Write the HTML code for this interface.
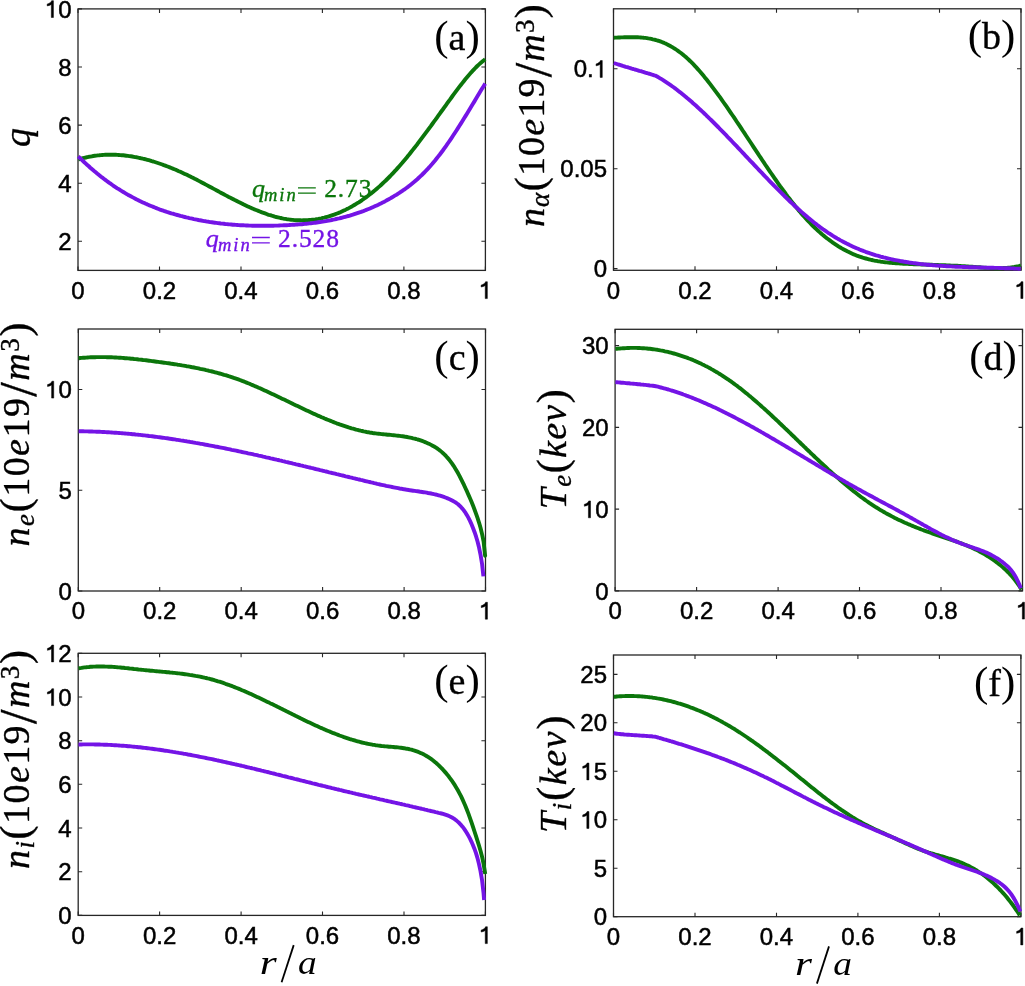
<!DOCTYPE html><html><head><meta charset="utf-8"><style>html,body{margin:0;padding:0;background:#fff;}svg{display:block;will-change:transform}.t{font-family:"Liberation Sans",sans-serif;font-size:24px;fill:#000;stroke:#000;stroke-width:0.5px}.s{font-family:"Liberation Serif",serif;fill:#000;stroke:#000;stroke-width:0.35px}</style></head><body>
<svg width="1025" height="986" viewBox="0 0 1025 986">
<rect width="1025" height="986" fill="#fff"/>
<rect x="78.0" y="8.9" width="407.4" height="261.5" fill="none" stroke="#262626" stroke-width="1.3"/>
<path d="M78.0,270.4v-4M78.0,8.9v4M159.5,270.4v-4M159.5,8.9v4M241.0,270.4v-4M241.0,8.9v4M322.4,270.4v-4M322.4,8.9v4M403.9,270.4v-4M403.9,8.9v4M485.4,270.4v-4M485.4,8.9v4M78.0,241.3h4M485.4,241.3h-4M78.0,183.2h4M485.4,183.2h-4M78.0,125.1h4M485.4,125.1h-4M78.0,67.0h4M485.4,67.0h-4M78.0,8.9h4M485.4,8.9h-4" stroke="#262626" stroke-width="1.1" fill="none"/>
<text class="t" x="71.33" y="298.6">0</text>
<text class="t" x="142.80" y="298.6">0.2</text>
<text class="t" x="224.28" y="298.6">0.4</text>
<text class="t" x="305.76" y="298.6">0.6</text>
<text class="t" x="387.24" y="298.6">0.8</text>
<path d="M359,0L359,703L285,703C265,640 200,585 101,562L101,482C170,497 230,515 271,545L271,0Z" transform="translate(478.73,298.6) scale(0.0240,-0.0240)" fill="#000" stroke="#000" stroke-width="20.8"/>
<text class="t" x="58.16" y="249.9">2</text>
<text class="t" x="58.16" y="191.8">4</text>
<text class="t" x="58.16" y="133.7">6</text>
<text class="t" x="58.16" y="75.6">8</text>
<path d="M359,0L359,703L285,703C265,640 200,585 101,562L101,482C170,497 230,515 271,545L271,0Z" transform="translate(44.81,17.5) scale(0.0240,-0.0240)" fill="#000" stroke="#000" stroke-width="20.8"/><text class="t" x="58.16" y="17.5">0</text>
<rect x="613.5" y="8.8" width="407.5" height="261.5" fill="none" stroke="#262626" stroke-width="1.3"/>
<path d="M613.5,270.3v-4M613.5,8.8v4M695.0,270.3v-4M695.0,8.8v4M776.5,270.3v-4M776.5,8.8v4M858.0,270.3v-4M858.0,8.8v4M939.5,270.3v-4M939.5,8.8v4M1021.0,270.3v-4M1021.0,8.8v4M613.5,268.6h4M1021.0,268.6h-4M613.5,168.7h4M1021.0,168.7h-4M613.5,68.8h4M1021.0,68.8h-4" stroke="#262626" stroke-width="1.1" fill="none"/>
<text class="t" x="606.83" y="298.5">0</text>
<text class="t" x="678.32" y="298.5">0.2</text>
<text class="t" x="759.82" y="298.5">0.4</text>
<text class="t" x="841.32" y="298.5">0.6</text>
<text class="t" x="922.82" y="298.5">0.8</text>
<path d="M359,0L359,703L285,703C265,640 200,585 101,562L101,482C170,497 230,515 271,545L271,0Z" transform="translate(1014.33,298.5) scale(0.0240,-0.0240)" fill="#000" stroke="#000" stroke-width="20.8"/>
<text class="t" x="593.66" y="277.2">0</text>
<text class="t" x="560.30" y="177.3">0.05</text>
<text class="t" x="573.64" y="77.4">0.</text><path d="M359,0L359,703L285,703C265,640 200,585 101,562L101,482C170,497 230,515 271,545L271,0Z" transform="translate(593.66,77.4) scale(0.0240,-0.0240)" fill="#000" stroke="#000" stroke-width="20.8"/>
<rect x="78.3" y="329.0" width="407.2" height="262.0" fill="none" stroke="#262626" stroke-width="1.3"/>
<path d="M78.3,591.0v-4M78.3,329.0v4M159.7,591.0v-4M159.7,329.0v4M241.2,591.0v-4M241.2,329.0v4M322.6,591.0v-4M322.6,329.0v4M404.1,591.0v-4M404.1,329.0v4M485.5,591.0v-4M485.5,329.0v4M78.3,591.0h4M485.5,591.0h-4M78.3,490.2h4M485.5,490.2h-4M78.3,389.5h4M485.5,389.5h-4" stroke="#262626" stroke-width="1.1" fill="none"/>
<text class="t" x="71.63" y="619.2">0</text>
<text class="t" x="143.06" y="619.2">0.2</text>
<text class="t" x="224.50" y="619.2">0.4</text>
<text class="t" x="305.94" y="619.2">0.6</text>
<text class="t" x="387.38" y="619.2">0.8</text>
<path d="M359,0L359,703L285,703C265,640 200,585 101,562L101,482C170,497 230,515 271,545L271,0Z" transform="translate(478.83,619.2) scale(0.0240,-0.0240)" fill="#000" stroke="#000" stroke-width="20.8"/>
<text class="t" x="58.46" y="599.6">0</text>
<text class="t" x="58.46" y="498.8">5</text>
<path d="M359,0L359,703L285,703C265,640 200,585 101,562L101,482C170,497 230,515 271,545L271,0Z" transform="translate(45.11,398.1) scale(0.0240,-0.0240)" fill="#000" stroke="#000" stroke-width="20.8"/><text class="t" x="58.46" y="398.1">0</text>
<rect x="615.1" y="329.3" width="407.4" height="261.6" fill="none" stroke="#262626" stroke-width="1.3"/>
<path d="M615.1,590.9v-4M615.1,329.3v4M696.6,590.9v-4M696.6,329.3v4M778.1,590.9v-4M778.1,329.3v4M859.5,590.9v-4M859.5,329.3v4M941.0,590.9v-4M941.0,329.3v4M1022.5,590.9v-4M1022.5,329.3v4M615.1,590.9h4M1022.5,590.9h-4M615.1,509.1h4M1022.5,509.1h-4M615.1,427.4h4M1022.5,427.4h-4M615.1,345.6h4M1022.5,345.6h-4" stroke="#262626" stroke-width="1.1" fill="none"/>
<text class="t" x="608.43" y="619.1">0</text>
<text class="t" x="679.90" y="619.1">0.2</text>
<text class="t" x="761.38" y="619.1">0.4</text>
<text class="t" x="842.86" y="619.1">0.6</text>
<text class="t" x="924.34" y="619.1">0.8</text>
<path d="M359,0L359,703L285,703C265,640 200,585 101,562L101,482C170,497 230,515 271,545L271,0Z" transform="translate(1015.83,619.1) scale(0.0240,-0.0240)" fill="#000" stroke="#000" stroke-width="20.8"/>
<text class="t" x="595.26" y="599.5">0</text>
<path d="M359,0L359,703L285,703C265,640 200,585 101,562L101,482C170,497 230,515 271,545L271,0Z" transform="translate(581.91,517.8) scale(0.0240,-0.0240)" fill="#000" stroke="#000" stroke-width="20.8"/><text class="t" x="595.26" y="517.8">0</text>
<text class="t" x="581.91" y="436.0">20</text>
<text class="t" x="581.91" y="354.2">30</text>
<rect x="78.2" y="653.3" width="407.2" height="262.1" fill="none" stroke="#262626" stroke-width="1.3"/>
<path d="M78.2,915.4v-4M78.2,653.3v4M159.6,915.4v-4M159.6,653.3v4M241.1,915.4v-4M241.1,653.3v4M322.5,915.4v-4M322.5,653.3v4M404.0,915.4v-4M404.0,653.3v4M485.4,915.4v-4M485.4,653.3v4M78.2,915.4h4M485.4,915.4h-4M78.2,871.7h4M485.4,871.7h-4M78.2,828.0h4M485.4,828.0h-4M78.2,784.3h4M485.4,784.3h-4M78.2,740.7h4M485.4,740.7h-4M78.2,697.0h4M485.4,697.0h-4M78.2,653.3h4M485.4,653.3h-4" stroke="#262626" stroke-width="1.1" fill="none"/>
<text class="t" x="71.53" y="943.6">0</text>
<text class="t" x="142.96" y="943.6">0.2</text>
<text class="t" x="224.40" y="943.6">0.4</text>
<text class="t" x="305.84" y="943.6">0.6</text>
<text class="t" x="387.28" y="943.6">0.8</text>
<path d="M359,0L359,703L285,703C265,640 200,585 101,562L101,482C170,497 230,515 271,545L271,0Z" transform="translate(478.73,943.6) scale(0.0240,-0.0240)" fill="#000" stroke="#000" stroke-width="20.8"/>
<text class="t" x="58.36" y="924.0">0</text>
<text class="t" x="58.36" y="880.3">2</text>
<text class="t" x="58.36" y="836.6">4</text>
<text class="t" x="58.36" y="792.9">6</text>
<text class="t" x="58.36" y="749.3">8</text>
<path d="M359,0L359,703L285,703C265,640 200,585 101,562L101,482C170,497 230,515 271,545L271,0Z" transform="translate(45.01,705.6) scale(0.0240,-0.0240)" fill="#000" stroke="#000" stroke-width="20.8"/><text class="t" x="58.36" y="705.6">0</text>
<path d="M359,0L359,703L285,703C265,640 200,585 101,562L101,482C170,497 230,515 271,545L271,0Z" transform="translate(45.01,661.9) scale(0.0240,-0.0240)" fill="#000" stroke="#000" stroke-width="20.8"/><text class="t" x="58.36" y="661.9">2</text>
<rect x="613.5" y="655.0" width="407.4" height="261.7" fill="none" stroke="#262626" stroke-width="1.3"/>
<path d="M613.5,916.7v-4M613.5,655.0v4M695.0,916.7v-4M695.0,655.0v4M776.5,916.7v-4M776.5,655.0v4M857.9,916.7v-4M857.9,655.0v4M939.4,916.7v-4M939.4,655.0v4M1020.9,916.7v-4M1020.9,655.0v4M613.5,916.7h4M1020.9,916.7h-4M613.5,868.2h4M1020.9,868.2h-4M613.5,819.8h4M1020.9,819.8h-4M613.5,771.3h4M1020.9,771.3h-4M613.5,722.8h4M1020.9,722.8h-4M613.5,674.4h4M1020.9,674.4h-4" stroke="#262626" stroke-width="1.1" fill="none"/>
<text class="t" x="606.83" y="944.9">0</text>
<text class="t" x="678.30" y="944.9">0.2</text>
<text class="t" x="759.78" y="944.9">0.4</text>
<text class="t" x="841.26" y="944.9">0.6</text>
<text class="t" x="922.74" y="944.9">0.8</text>
<path d="M359,0L359,703L285,703C265,640 200,585 101,562L101,482C170,497 230,515 271,545L271,0Z" transform="translate(1014.23,944.9) scale(0.0240,-0.0240)" fill="#000" stroke="#000" stroke-width="20.8"/>
<text class="t" x="593.66" y="925.3">0</text>
<text class="t" x="593.66" y="876.8">5</text>
<path d="M359,0L359,703L285,703C265,640 200,585 101,562L101,482C170,497 230,515 271,545L271,0Z" transform="translate(580.31,828.4) scale(0.0240,-0.0240)" fill="#000" stroke="#000" stroke-width="20.8"/><text class="t" x="593.66" y="828.4">0</text>
<path d="M359,0L359,703L285,703C265,640 200,585 101,562L101,482C170,497 230,515 271,545L271,0Z" transform="translate(580.31,779.9) scale(0.0240,-0.0240)" fill="#000" stroke="#000" stroke-width="20.8"/><text class="t" x="593.66" y="779.9">5</text>
<text class="t" x="580.31" y="731.4">20</text>
<text class="t" x="580.31" y="683.0">25</text>
<path d="M78.3,159.4 L79.8,159.0 L81.3,158.6 L82.8,158.2 L84.3,157.8 L85.8,157.5 L87.3,157.1 L88.8,156.8 L90.3,156.6 L91.8,156.3 L93.3,156.0 L94.8,155.8 L96.3,155.6 L97.8,155.4 L99.3,155.3 L100.8,155.1 L102.3,155.0 L103.8,154.9 L105.3,154.8 L106.8,154.8 L108.3,154.7 L109.8,154.7 L111.3,154.7 L112.8,154.7 L114.3,154.8 L115.8,154.8 L117.3,154.9 L118.8,155.0 L120.3,155.1 L121.8,155.2 L123.3,155.3 L124.8,155.5 L126.3,155.7 L127.8,155.9 L129.3,156.1 L130.8,156.3 L132.3,156.5 L133.8,156.8 L135.3,157.1 L136.8,157.3 L138.3,157.7 L139.8,158.0 L141.3,158.3 L142.8,158.7 L144.3,159.0 L145.8,159.4 L147.3,159.8 L148.8,160.2 L150.3,160.6 L151.8,161.1 L153.3,161.5 L154.8,162.0 L156.3,162.5 L157.8,163.0 L159.3,163.5 L160.8,164.0 L162.3,164.5 L163.8,165.1 L165.3,165.6 L166.8,166.2 L168.3,166.8 L169.8,167.4 L171.3,168.0 L172.8,168.6 L174.3,169.2 L175.8,169.8 L177.3,170.5 L178.8,171.2 L180.3,171.8 L181.8,172.5 L183.3,173.2 L184.8,173.9 L186.3,174.6 L187.8,175.3 L189.3,176.1 L190.8,176.8 L192.3,177.6 L193.8,178.3 L195.3,179.1 L196.8,179.8 L198.3,180.6 L199.8,181.4 L201.3,182.2 L202.8,183.0 L204.3,183.8 L205.8,184.6 L207.3,185.4 L208.8,186.2 L210.3,187.0 L211.8,187.8 L213.3,188.6 L214.8,189.4 L216.3,190.2 L217.8,191.0 L219.3,191.9 L220.8,192.7 L222.3,193.5 L223.8,194.3 L225.3,195.1 L226.8,195.9 L228.3,196.7 L229.8,197.4 L231.3,198.2 L232.8,199.0 L234.3,199.8 L235.8,200.5 L237.3,201.3 L238.8,202.1 L240.3,202.8 L241.8,203.5 L243.3,204.3 L244.8,205.0 L246.3,205.7 L247.8,206.4 L249.3,207.1 L250.8,207.7 L252.3,208.4 L253.8,209.1 L255.3,209.7 L256.8,210.3 L258.3,210.9 L259.8,211.5 L261.3,212.1 L262.8,212.7 L264.3,213.2 L265.8,213.7 L267.3,214.3 L268.8,214.8 L270.3,215.2 L271.8,215.7 L273.3,216.1 L274.8,216.6 L276.3,217.0 L277.8,217.3 L279.3,217.7 L280.8,218.0 L282.3,218.4 L283.8,218.7 L285.3,218.9 L286.8,219.2 L288.3,219.4 L289.8,219.6 L291.3,219.8 L292.8,219.9 L294.3,220.1 L295.8,220.2 L297.3,220.3 L298.8,220.3 L300.3,220.3 L301.8,220.4 L303.3,220.3 L304.8,220.3 L306.3,220.2 L307.8,220.2 L309.3,220.0 L310.8,219.9 L312.3,219.7 L313.8,219.6 L315.3,219.4 L316.8,219.1 L318.3,218.9 L319.8,218.6 L321.3,218.3 L322.8,217.9 L324.3,217.6 L325.8,217.2 L327.3,216.8 L328.8,216.4 L330.3,215.9 L331.8,215.4 L333.3,214.9 L334.8,214.4 L336.3,213.8 L337.8,213.2 L339.3,212.6 L340.8,212.0 L342.3,211.3 L343.8,210.6 L345.3,209.9 L346.8,209.1 L348.3,208.4 L349.8,207.6 L351.3,206.8 L352.8,205.9 L354.3,205.0 L355.8,204.1 L357.3,203.2 L358.8,202.3 L360.3,201.3 L361.8,200.3 L363.3,199.2 L364.8,198.2 L366.3,197.1 L367.8,196.0 L369.3,194.8 L370.8,193.7 L372.3,192.5 L373.8,191.2 L375.3,190.0 L376.8,188.7 L378.3,187.4 L379.8,186.1 L381.3,184.7 L382.8,183.3 L384.3,181.9 L385.8,180.5 L387.3,179.0 L388.8,177.5 L390.3,176.0 L391.8,174.4 L393.3,172.8 L394.8,171.2 L396.3,169.6 L397.8,167.9 L399.3,166.2 L400.8,164.5 L402.3,162.8 L403.8,161.0 L405.3,159.2 L406.8,157.4 L408.3,155.6 L409.8,153.7 L411.3,151.8 L412.8,149.9 L414.3,148.0 L415.8,146.1 L417.3,144.2 L418.8,142.2 L420.3,140.2 L421.8,138.2 L423.3,136.2 L424.8,134.2 L426.3,132.2 L427.8,130.2 L429.3,128.1 L430.8,126.1 L432.3,124.0 L433.8,121.9 L435.3,119.9 L436.8,117.8 L438.3,115.7 L439.8,113.6 L441.3,111.5 L442.8,109.5 L444.3,107.4 L445.8,105.3 L447.3,103.2 L448.8,101.1 L450.3,99.1 L451.8,97.0 L453.3,94.9 L454.8,92.9 L456.3,90.9 L457.8,88.9 L459.3,86.9 L460.8,85.0 L462.3,83.1 L463.8,81.2 L465.3,79.3 L466.8,77.5 L468.3,75.7 L469.8,74.0 L471.3,72.3 L472.8,70.7 L474.3,69.1 L475.8,67.5 L477.3,66.0 L478.8,64.6 L480.3,63.3 L481.8,62.0 L483.3,60.7 L484.8,59.6 L485.2,59.3" stroke="#0b760b" stroke-width="3.9" fill="none" stroke-linejoin="round"/>
<path d="M78.3,156.4 L79.8,157.9 L81.3,159.3 L82.8,160.8 L84.3,162.2 L85.8,163.6 L87.3,165.0 L88.8,166.3 L90.3,167.7 L91.8,169.0 L93.3,170.3 L94.8,171.6 L96.3,172.8 L97.8,174.1 L99.3,175.3 L100.8,176.5 L102.3,177.6 L103.8,178.8 L105.3,179.9 L106.8,181.0 L108.3,182.1 L109.8,183.2 L111.3,184.2 L112.8,185.3 L114.3,186.3 L115.8,187.3 L117.3,188.3 L118.8,189.2 L120.3,190.2 L121.8,191.1 L123.3,192.0 L124.8,192.9 L126.3,193.8 L127.8,194.7 L129.3,195.5 L130.8,196.3 L132.3,197.1 L133.8,197.9 L135.3,198.7 L136.8,199.5 L138.3,200.2 L139.8,201.0 L141.3,201.7 L142.8,202.4 L144.3,203.1 L145.8,203.8 L147.3,204.4 L148.8,205.1 L150.3,205.7 L151.8,206.3 L153.3,206.9 L154.8,207.5 L156.3,208.1 L157.8,208.7 L159.3,209.3 L160.8,209.8 L162.3,210.3 L163.8,210.9 L165.3,211.4 L166.8,211.9 L168.3,212.3 L169.8,212.8 L171.3,213.3 L172.8,213.7 L174.3,214.2 L175.8,214.6 L177.3,215.0 L178.8,215.4 L180.3,215.9 L181.8,216.2 L183.3,216.6 L184.8,217.0 L186.3,217.4 L187.8,217.7 L189.3,218.1 L190.8,218.4 L192.3,218.7 L193.8,219.1 L195.3,219.4 L196.8,219.7 L198.3,220.0 L199.8,220.3 L201.3,220.5 L202.8,220.8 L204.3,221.1 L205.8,221.3 L207.3,221.6 L208.8,221.8 L210.3,222.1 L211.8,222.3 L213.3,222.5 L214.8,222.7 L216.3,222.9 L217.8,223.1 L219.3,223.3 L220.8,223.5 L222.3,223.6 L223.8,223.8 L225.3,224.0 L226.8,224.1 L228.3,224.3 L229.8,224.4 L231.3,224.5 L232.8,224.7 L234.3,224.8 L235.8,224.9 L237.3,225.0 L238.8,225.1 L240.3,225.2 L241.8,225.3 L243.3,225.3 L244.8,225.4 L246.3,225.5 L247.8,225.5 L249.3,225.6 L250.8,225.6 L252.3,225.7 L253.8,225.7 L255.3,225.7 L256.8,225.8 L258.3,225.8 L259.8,225.8 L261.3,225.8 L262.8,225.8 L264.3,225.8 L265.8,225.8 L267.3,225.8 L268.8,225.8 L270.3,225.7 L271.8,225.7 L273.3,225.7 L274.8,225.6 L276.3,225.6 L277.8,225.6 L279.3,225.5 L280.8,225.4 L282.3,225.4 L283.8,225.3 L285.3,225.3 L286.8,225.2 L288.3,225.1 L289.8,225.0 L291.3,224.9 L292.8,224.8 L294.3,224.7 L295.8,224.6 L297.3,224.5 L298.8,224.4 L300.3,224.3 L301.8,224.2 L303.3,224.0 L304.8,223.9 L306.3,223.7 L307.8,223.6 L309.3,223.4 L310.8,223.3 L312.3,223.1 L313.8,222.9 L315.3,222.7 L316.8,222.5 L318.3,222.3 L319.8,222.1 L321.3,221.8 L322.8,221.6 L324.3,221.4 L325.8,221.1 L327.3,220.8 L328.8,220.6 L330.3,220.3 L331.8,220.0 L333.3,219.7 L334.8,219.4 L336.3,219.0 L337.8,218.7 L339.3,218.4 L340.8,218.0 L342.3,217.6 L343.8,217.2 L345.3,216.8 L346.8,216.4 L348.3,216.0 L349.8,215.6 L351.3,215.1 L352.8,214.7 L354.3,214.2 L355.8,213.7 L357.3,213.2 L358.8,212.7 L360.3,212.2 L361.8,211.6 L363.3,211.1 L364.8,210.5 L366.3,209.9 L367.8,209.3 L369.3,208.7 L370.8,208.1 L372.3,207.4 L373.8,206.8 L375.3,206.1 L376.8,205.4 L378.3,204.7 L379.8,203.9 L381.3,203.2 L382.8,202.4 L384.3,201.7 L385.8,200.9 L387.3,200.0 L388.8,199.2 L390.3,198.4 L391.8,197.5 L393.3,196.6 L394.8,195.7 L396.3,194.8 L397.8,193.8 L399.3,192.9 L400.8,191.9 L402.3,190.9 L403.8,189.8 L405.3,188.8 L406.8,187.7 L408.3,186.6 L409.8,185.4 L411.3,184.2 L412.8,183.0 L414.3,181.8 L415.8,180.5 L417.3,179.2 L418.8,177.8 L420.3,176.4 L421.8,175.0 L423.3,173.5 L424.8,172.0 L426.3,170.4 L427.8,168.8 L429.3,167.2 L430.8,165.5 L432.3,163.8 L433.8,162.0 L435.3,160.2 L436.8,158.3 L438.3,156.4 L439.8,154.5 L441.3,152.5 L442.8,150.5 L444.3,148.4 L445.8,146.3 L447.3,144.2 L448.8,142.0 L450.3,139.8 L451.8,137.6 L453.3,135.3 L454.8,133.0 L456.3,130.7 L457.8,128.4 L459.3,126.0 L460.8,123.6 L462.3,121.2 L463.8,118.8 L465.3,116.4 L466.8,113.9 L468.3,111.5 L469.8,109.0 L471.3,106.5 L472.8,104.0 L474.3,101.6 L475.8,99.1 L477.3,96.6 L478.8,94.1 L480.3,91.6 L481.8,89.1 L483.3,86.7 L484.8,84.2 L485.2,83.6" stroke="#7414e6" stroke-width="3.9" fill="none" stroke-linejoin="round"/>
<path d="M613.8,37.7 L615.3,37.6 L616.8,37.6 L618.3,37.5 L619.8,37.5 L621.3,37.4 L622.8,37.4 L624.3,37.3 L625.8,37.3 L627.3,37.2 L628.8,37.2 L630.3,37.2 L631.8,37.2 L633.3,37.2 L634.8,37.2 L636.3,37.3 L637.8,37.3 L639.3,37.4 L640.8,37.5 L642.3,37.6 L643.8,37.8 L645.3,37.9 L646.8,38.1 L648.3,38.4 L649.8,38.6 L651.3,38.9 L652.8,39.3 L654.3,39.6 L655.8,40.0 L657.3,40.5 L658.8,40.9 L660.3,41.4 L661.8,42.0 L663.3,42.6 L664.8,43.3 L666.3,43.9 L667.8,44.7 L669.3,45.5 L670.8,46.3 L672.3,47.2 L673.8,48.1 L675.3,49.0 L676.8,50.0 L678.3,51.1 L679.8,52.2 L681.3,53.3 L682.8,54.5 L684.3,55.8 L685.8,57.0 L687.3,58.4 L688.8,59.8 L690.3,61.2 L691.8,62.7 L693.3,64.2 L694.8,65.8 L696.3,67.4 L697.8,69.1 L699.3,70.8 L700.8,72.5 L702.3,74.3 L703.8,76.1 L705.3,78.0 L706.8,79.8 L708.3,81.7 L709.8,83.6 L711.3,85.6 L712.8,87.6 L714.3,89.6 L715.8,91.6 L717.3,93.6 L718.8,95.7 L720.3,97.7 L721.8,99.8 L723.3,102.0 L724.8,104.1 L726.3,106.2 L727.8,108.4 L729.3,110.6 L730.8,112.8 L732.3,115.0 L733.8,117.2 L735.3,119.4 L736.8,121.7 L738.3,123.9 L739.8,126.1 L741.3,128.4 L742.8,130.7 L744.3,132.9 L745.8,135.2 L747.3,137.5 L748.8,139.8 L750.3,142.0 L751.8,144.3 L753.3,146.6 L754.8,148.9 L756.3,151.1 L757.8,153.4 L759.3,155.7 L760.8,157.9 L762.3,160.2 L763.8,162.4 L765.3,164.7 L766.8,166.9 L768.3,169.1 L769.8,171.3 L771.3,173.5 L772.8,175.7 L774.3,177.9 L775.8,180.0 L777.3,182.1 L778.8,184.3 L780.3,186.4 L781.8,188.4 L783.3,190.5 L784.8,192.5 L786.3,194.6 L787.8,196.6 L789.3,198.5 L790.8,200.5 L792.3,202.4 L793.8,204.3 L795.3,206.2 L796.8,208.0 L798.3,209.9 L799.8,211.6 L801.3,213.4 L802.8,215.1 L804.3,216.8 L805.8,218.5 L807.3,220.1 L808.8,221.7 L810.3,223.2 L811.8,224.8 L813.3,226.3 L814.8,227.7 L816.3,229.1 L817.8,230.5 L819.3,231.9 L820.8,233.2 L822.3,234.5 L823.8,235.7 L825.3,237.0 L826.8,238.2 L828.3,239.3 L829.8,240.4 L831.3,241.5 L832.8,242.6 L834.3,243.6 L835.8,244.6 L837.3,245.6 L838.8,246.6 L840.3,247.5 L841.8,248.4 L843.3,249.2 L844.8,250.0 L846.3,250.8 L847.8,251.6 L849.3,252.3 L850.8,253.0 L852.3,253.7 L853.8,254.4 L855.3,255.0 L856.8,255.6 L858.3,256.1 L859.8,256.7 L861.3,257.2 L862.8,257.7 L864.3,258.1 L865.8,258.5 L867.3,258.9 L868.8,259.3 L870.3,259.7 L871.8,260.0 L873.3,260.4 L874.8,260.7 L876.3,260.9 L877.8,261.2 L879.3,261.4 L880.8,261.7 L882.3,261.9 L883.8,262.1 L885.3,262.3 L886.8,262.4 L888.3,262.6 L889.8,262.7 L891.3,262.9 L892.8,263.0 L894.3,263.1 L895.8,263.2 L897.3,263.3 L898.8,263.4 L900.3,263.5 L901.8,263.6 L903.3,263.7 L904.8,263.8 L906.3,263.9 L907.8,263.9 L909.3,264.0 L910.8,264.1 L912.3,264.1 L913.8,264.2 L915.3,264.3 L916.8,264.3 L918.3,264.4 L919.8,264.4 L921.3,264.5 L922.8,264.5 L924.3,264.6 L925.8,264.6 L927.3,264.7 L928.8,264.7 L930.3,264.8 L931.8,264.8 L933.3,264.9 L934.8,264.9 L936.3,265.0 L937.8,265.0 L939.3,265.1 L940.8,265.2 L942.3,265.2 L943.8,265.3 L945.3,265.3 L946.8,265.4 L948.3,265.4 L949.8,265.5 L951.3,265.6 L952.8,265.6 L954.3,265.7 L955.8,265.8 L957.3,265.8 L958.8,265.9 L960.3,266.0 L961.8,266.1 L963.3,266.2 L964.8,266.3 L966.3,266.4 L967.8,266.4 L969.3,266.6 L970.8,266.7 L972.3,266.8 L973.8,266.9 L975.3,267.0 L976.8,267.1 L978.3,267.2 L979.8,267.3 L981.3,267.5 L982.8,267.6 L984.3,267.7 L985.8,267.8 L987.3,267.9 L988.8,267.9 L990.3,268.0 L991.8,268.1 L993.3,268.1 L994.8,268.2 L996.3,268.2 L997.8,268.2 L999.3,268.2 L1000.8,268.2 L1002.3,268.1 L1003.8,268.0 L1005.3,268.0 L1006.8,267.9 L1008.3,267.7 L1009.8,267.6 L1011.3,267.4 L1012.8,267.2 L1014.3,267.0 L1015.8,266.7 L1017.3,266.4 L1018.8,266.1 L1020.3,265.7 L1020.8,265.6" stroke="#0b760b" stroke-width="3.9" fill="none" stroke-linejoin="round"/>
<path d="M613.8,63.0 L615.3,63.5 L616.8,64.0 L618.3,64.5 L619.8,64.9 L621.3,65.4 L622.8,65.9 L624.3,66.3 L625.8,66.8 L627.3,67.2 L628.8,67.7 L630.3,68.1 L631.8,68.6 L633.3,69.0 L634.8,69.5 L636.3,69.9 L637.8,70.3 L639.3,70.8 L640.8,71.2 L642.3,71.7 L643.8,72.1 L645.3,72.6 L646.8,73.0 L648.3,73.5 L649.8,73.9 L651.3,74.4 L652.8,74.8 L654.3,75.3 L655.6,75.7 L657.1,76.5 L658.6,77.4 L660.1,78.3 L661.6,79.2 L663.1,80.1 L664.6,81.1 L666.1,82.1 L667.6,83.1 L669.1,84.1 L670.6,85.1 L672.1,86.2 L673.6,87.3 L675.1,88.4 L676.6,89.5 L678.1,90.7 L679.6,91.9 L681.1,93.0 L682.6,94.3 L684.1,95.5 L685.6,96.7 L687.1,98.0 L688.6,99.2 L690.1,100.5 L691.6,101.8 L693.1,103.2 L694.6,104.5 L696.1,105.8 L697.6,107.2 L699.1,108.6 L700.6,110.0 L702.1,111.4 L703.6,112.8 L705.1,114.2 L706.6,115.7 L708.1,117.1 L709.6,118.6 L711.1,120.0 L712.6,121.5 L714.1,123.0 L715.6,124.5 L717.1,126.0 L718.6,127.5 L720.1,129.1 L721.6,130.6 L723.1,132.1 L724.6,133.7 L726.1,135.2 L727.6,136.8 L729.1,138.3 L730.6,139.9 L732.1,141.5 L733.6,143.1 L735.1,144.6 L736.6,146.2 L738.1,147.8 L739.6,149.4 L741.1,151.0 L742.6,152.6 L744.1,154.2 L745.6,155.8 L747.1,157.4 L748.6,159.0 L750.1,160.6 L751.6,162.1 L753.1,163.7 L754.6,165.3 L756.1,166.9 L757.6,168.5 L759.1,170.1 L760.6,171.7 L762.1,173.2 L763.6,174.8 L765.1,176.4 L766.6,177.9 L768.1,179.5 L769.6,181.1 L771.1,182.6 L772.6,184.1 L774.1,185.7 L775.6,187.2 L777.1,188.7 L778.6,190.2 L780.1,191.7 L781.6,193.2 L783.1,194.7 L784.6,196.2 L786.1,197.6 L787.6,199.1 L789.1,200.5 L790.6,202.0 L792.1,203.4 L793.6,204.8 L795.1,206.2 L796.6,207.5 L798.1,208.9 L799.6,210.3 L801.1,211.6 L802.6,212.9 L804.1,214.2 L805.6,215.5 L807.1,216.8 L808.6,218.1 L810.1,219.3 L811.6,220.5 L813.1,221.7 L814.6,222.9 L816.1,224.1 L817.6,225.3 L819.1,226.4 L820.6,227.5 L822.1,228.6 L823.6,229.7 L825.1,230.7 L826.6,231.7 L828.1,232.8 L829.6,233.7 L831.1,234.7 L832.6,235.7 L834.1,236.6 L835.6,237.5 L837.1,238.4 L838.6,239.2 L840.1,240.1 L841.6,240.9 L843.1,241.7 L844.6,242.5 L846.1,243.3 L847.6,244.0 L849.1,244.8 L850.6,245.5 L852.1,246.2 L853.6,246.9 L855.1,247.6 L856.6,248.2 L858.1,248.8 L859.6,249.5 L861.1,250.1 L862.6,250.6 L864.1,251.2 L865.6,251.8 L867.1,252.3 L868.6,252.8 L870.1,253.4 L871.6,253.8 L873.1,254.3 L874.6,254.8 L876.1,255.3 L877.6,255.7 L879.1,256.1 L880.6,256.6 L882.1,257.0 L883.6,257.4 L885.1,257.7 L886.6,258.1 L888.1,258.5 L889.6,258.8 L891.1,259.2 L892.6,259.5 L894.1,259.8 L895.6,260.1 L897.1,260.4 L898.6,260.7 L900.1,261.0 L901.6,261.2 L903.1,261.5 L904.6,261.8 L906.1,262.0 L907.6,262.2 L909.1,262.5 L910.6,262.7 L912.1,262.9 L913.6,263.1 L915.1,263.3 L916.6,263.5 L918.1,263.7 L919.6,263.9 L921.1,264.1 L922.6,264.2 L924.1,264.4 L925.6,264.5 L927.1,264.7 L928.6,264.8 L930.1,265.0 L931.6,265.1 L933.1,265.2 L934.6,265.4 L936.1,265.5 L937.6,265.6 L939.1,265.7 L940.6,265.8 L942.1,265.9 L943.6,266.0 L945.1,266.1 L946.6,266.2 L948.1,266.3 L949.6,266.4 L951.1,266.4 L952.6,266.5 L954.1,266.6 L955.6,266.7 L957.1,266.7 L958.6,266.8 L960.1,266.9 L961.6,266.9 L963.1,267.0 L964.6,267.0 L966.1,267.1 L967.6,267.1 L969.1,267.2 L970.6,267.2 L972.1,267.3 L973.6,267.3 L975.1,267.3 L976.6,267.4 L978.1,267.4 L979.6,267.5 L981.1,267.5 L982.6,267.5 L984.1,267.6 L985.6,267.6 L987.1,267.7 L988.6,267.7 L990.1,267.7 L991.6,267.8 L993.1,267.8 L994.6,267.9 L996.1,267.9 L997.6,267.9 L999.1,268.0 L1000.6,268.0 L1002.1,268.1 L1003.6,268.1 L1005.1,268.2 L1006.6,268.2 L1008.1,268.3 L1009.6,268.3 L1011.1,268.4 L1012.6,268.4 L1014.1,268.5 L1015.6,268.6 L1017.1,268.6 L1018.6,268.7 L1020.1,268.8 L1020.8,268.8" stroke="#7414e6" stroke-width="3.9" fill="none" stroke-linejoin="round"/>
<path d="M78.6,358.2 L80.1,358.0 L81.6,357.9 L83.1,357.8 L84.6,357.7 L86.1,357.6 L87.6,357.5 L89.1,357.4 L90.6,357.3 L92.1,357.3 L93.6,357.2 L95.1,357.2 L96.6,357.1 L98.1,357.1 L99.6,357.1 L101.1,357.1 L102.6,357.1 L104.1,357.1 L105.6,357.1 L107.1,357.2 L108.6,357.2 L110.1,357.3 L111.6,357.3 L113.1,357.4 L114.6,357.5 L116.1,357.5 L117.6,357.6 L119.1,357.7 L120.6,357.8 L122.1,357.9 L123.6,358.0 L125.1,358.2 L126.6,358.3 L128.1,358.4 L129.6,358.5 L131.1,358.7 L132.6,358.8 L134.1,359.0 L135.6,359.1 L137.1,359.3 L138.6,359.5 L140.1,359.6 L141.6,359.8 L143.1,360.0 L144.6,360.1 L146.1,360.3 L147.6,360.5 L149.1,360.7 L150.6,360.9 L152.1,361.1 L153.6,361.3 L155.1,361.5 L156.6,361.7 L158.1,361.9 L159.6,362.1 L161.1,362.3 L162.6,362.5 L164.1,362.7 L165.6,362.9 L167.1,363.1 L168.6,363.3 L170.1,363.5 L171.6,363.8 L173.1,364.0 L174.6,364.2 L176.1,364.4 L177.6,364.7 L179.1,364.9 L180.6,365.1 L182.1,365.4 L183.6,365.6 L185.1,365.9 L186.6,366.2 L188.1,366.4 L189.6,366.7 L191.1,367.0 L192.6,367.3 L194.1,367.5 L195.6,367.8 L197.1,368.1 L198.6,368.4 L200.1,368.8 L201.6,369.1 L203.1,369.4 L204.6,369.7 L206.1,370.1 L207.6,370.4 L209.1,370.8 L210.6,371.1 L212.1,371.5 L213.6,371.9 L215.1,372.3 L216.6,372.7 L218.1,373.1 L219.6,373.5 L221.1,373.9 L222.6,374.3 L224.1,374.8 L225.6,375.2 L227.1,375.7 L228.6,376.2 L230.1,376.6 L231.6,377.1 L233.1,377.6 L234.6,378.2 L236.1,378.7 L237.6,379.2 L239.1,379.7 L240.6,380.3 L242.1,380.9 L243.6,381.4 L245.1,382.0 L246.6,382.6 L248.1,383.2 L249.6,383.8 L251.1,384.5 L252.6,385.1 L254.1,385.7 L255.6,386.4 L257.1,387.0 L258.6,387.7 L260.1,388.3 L261.6,389.0 L263.1,389.7 L264.6,390.4 L266.1,391.1 L267.6,391.8 L269.1,392.5 L270.6,393.2 L272.1,393.9 L273.6,394.6 L275.1,395.3 L276.6,396.0 L278.1,396.7 L279.6,397.4 L281.1,398.2 L282.6,398.9 L284.1,399.6 L285.6,400.3 L287.1,401.1 L288.6,401.8 L290.1,402.5 L291.6,403.2 L293.1,404.0 L294.6,404.7 L296.1,405.4 L297.6,406.1 L299.1,406.8 L300.6,407.6 L302.1,408.3 L303.6,409.0 L305.1,409.7 L306.6,410.4 L308.1,411.1 L309.6,411.8 L311.1,412.5 L312.6,413.2 L314.1,413.9 L315.6,414.5 L317.1,415.2 L318.6,415.9 L320.1,416.5 L321.6,417.2 L323.1,417.8 L324.6,418.5 L326.1,419.1 L327.6,419.7 L329.1,420.3 L330.6,420.9 L332.1,421.5 L333.6,422.1 L335.1,422.7 L336.6,423.3 L338.1,423.8 L339.6,424.4 L341.1,424.9 L342.6,425.4 L344.1,425.9 L345.6,426.4 L347.1,426.9 L348.6,427.4 L350.1,427.8 L351.6,428.3 L353.1,428.7 L354.6,429.1 L356.1,429.6 L357.6,429.9 L359.1,430.3 L360.6,430.7 L362.1,431.0 L363.6,431.4 L365.1,431.7 L366.6,432.0 L368.1,432.2 L369.6,432.5 L371.1,432.7 L372.6,433.0 L374.1,433.2 L375.6,433.4 L377.1,433.6 L378.6,433.7 L380.1,433.9 L381.6,434.1 L383.1,434.2 L384.6,434.4 L386.1,434.5 L387.6,434.7 L389.1,434.8 L390.6,434.9 L392.1,435.1 L393.6,435.2 L395.1,435.4 L396.6,435.6 L398.1,435.7 L399.6,435.9 L401.1,436.1 L402.6,436.3 L404.1,436.5 L405.6,436.8 L407.1,437.0 L408.6,437.3 L410.1,437.6 L411.6,437.9 L413.1,438.3 L414.6,438.6 L416.1,439.0 L417.6,439.5 L419.1,439.9 L420.6,440.4 L422.1,440.9 L423.6,441.5 L425.1,442.1 L426.6,442.7 L428.1,443.4 L429.6,444.1 L431.1,444.9 L432.6,445.7 L434.1,446.5 L435.6,447.4 L437.1,448.4 L438.6,449.5 L440.1,450.6 L441.6,451.9 L443.1,453.2 L444.6,454.6 L446.1,456.2 L447.6,457.9 L449.1,459.6 L450.6,461.6 L452.1,463.6 L453.6,465.8 L455.1,468.2 L456.6,470.7 L458.1,473.3 L459.6,476.1 L461.1,479.1 L462.6,482.1 L464.1,485.2 L465.6,488.5 L467.1,491.7 L468.6,495.1 L470.1,498.5 L471.6,502.1 L473.1,505.8 L474.6,509.7 L476.1,513.8 L477.6,518.2 L479.1,522.8 L480.6,528.0 L482.1,534.2 L483.6,541.5 L485.1,555.7 L485.3,555.0" stroke="#0b760b" stroke-width="3.9" fill="none" stroke-linejoin="round"/>
<path d="M78.6,431.3 L80.1,431.3 L81.6,431.3 L83.1,431.3 L84.6,431.4 L86.1,431.4 L87.6,431.4 L89.1,431.5 L90.6,431.5 L92.1,431.5 L93.6,431.6 L95.1,431.6 L96.6,431.7 L98.1,431.8 L99.6,431.8 L101.1,431.9 L102.6,432.0 L104.1,432.0 L105.6,432.1 L107.1,432.2 L108.6,432.3 L110.1,432.4 L111.6,432.5 L113.1,432.6 L114.6,432.7 L116.1,432.8 L117.6,432.9 L119.1,433.0 L120.6,433.1 L122.1,433.2 L123.6,433.4 L125.1,433.5 L126.6,433.6 L128.1,433.7 L129.6,433.9 L131.1,434.0 L132.6,434.2 L134.1,434.3 L135.6,434.5 L137.1,434.6 L138.6,434.8 L140.1,434.9 L141.6,435.1 L143.1,435.3 L144.6,435.4 L146.1,435.6 L147.6,435.8 L149.1,436.0 L150.6,436.1 L152.1,436.3 L153.6,436.5 L155.1,436.7 L156.6,436.9 L158.1,437.1 L159.6,437.3 L161.1,437.5 L162.6,437.7 L164.1,437.9 L165.6,438.1 L167.1,438.3 L168.6,438.5 L170.1,438.8 L171.6,439.0 L173.1,439.2 L174.6,439.4 L176.1,439.7 L177.6,439.9 L179.1,440.1 L180.6,440.4 L182.1,440.6 L183.6,440.8 L185.1,441.1 L186.6,441.3 L188.1,441.6 L189.6,441.8 L191.1,442.1 L192.6,442.3 L194.1,442.6 L195.6,442.9 L197.1,443.1 L198.6,443.4 L200.1,443.7 L201.6,443.9 L203.1,444.2 L204.6,444.5 L206.1,444.8 L207.6,445.0 L209.1,445.3 L210.6,445.6 L212.1,445.9 L213.6,446.2 L215.1,446.5 L216.6,446.7 L218.1,447.0 L219.6,447.3 L221.1,447.6 L222.6,447.9 L224.1,448.2 L225.6,448.5 L227.1,448.8 L228.6,449.1 L230.1,449.4 L231.6,449.8 L233.1,450.1 L234.6,450.4 L236.1,450.7 L237.6,451.0 L239.1,451.3 L240.6,451.6 L242.1,452.0 L243.6,452.3 L245.1,452.6 L246.6,452.9 L248.1,453.3 L249.6,453.6 L251.1,453.9 L252.6,454.2 L254.1,454.6 L255.6,454.9 L257.1,455.2 L258.6,455.6 L260.1,455.9 L261.6,456.2 L263.1,456.6 L264.6,456.9 L266.1,457.3 L267.6,457.6 L269.1,457.9 L270.6,458.3 L272.1,458.6 L273.6,459.0 L275.1,459.3 L276.6,459.7 L278.1,460.0 L279.6,460.4 L281.1,460.7 L282.6,461.1 L284.1,461.4 L285.6,461.8 L287.1,462.1 L288.6,462.5 L290.1,462.8 L291.6,463.2 L293.1,463.6 L294.6,463.9 L296.1,464.3 L297.6,464.6 L299.1,465.0 L300.6,465.4 L302.1,465.7 L303.6,466.1 L305.1,466.4 L306.6,466.8 L308.1,467.2 L309.6,467.5 L311.1,467.9 L312.6,468.2 L314.1,468.6 L315.6,469.0 L317.1,469.3 L318.6,469.7 L320.1,470.1 L321.6,470.4 L323.1,470.8 L324.6,471.2 L326.1,471.5 L327.6,471.9 L329.1,472.3 L330.6,472.6 L332.1,473.0 L333.6,473.3 L335.1,473.7 L336.6,474.1 L338.1,474.4 L339.6,474.8 L341.1,475.2 L342.6,475.5 L344.1,475.9 L345.6,476.3 L347.1,476.6 L348.6,477.0 L350.1,477.4 L351.6,477.7 L353.1,478.1 L354.6,478.4 L356.1,478.8 L357.6,479.2 L359.1,479.5 L360.6,479.9 L362.1,480.2 L363.6,480.6 L365.1,481.0 L366.6,481.3 L368.1,481.7 L369.6,482.0 L371.1,482.4 L372.6,482.7 L374.1,483.1 L375.6,483.4 L377.1,483.8 L378.6,484.1 L380.1,484.5 L381.6,484.8 L383.1,485.1 L384.6,485.4 L386.1,485.8 L387.6,486.1 L389.1,486.4 L390.6,486.7 L392.1,487.0 L393.6,487.3 L395.1,487.6 L396.6,487.9 L398.1,488.2 L399.6,488.5 L401.1,488.7 L402.6,489.0 L404.1,489.3 L405.6,489.5 L407.1,489.8 L408.6,490.0 L410.1,490.3 L411.6,490.5 L413.1,490.7 L414.6,490.9 L416.1,491.1 L417.6,491.3 L419.1,491.5 L420.6,491.8 L422.1,492.0 L423.6,492.2 L425.1,492.4 L426.6,492.7 L428.1,493.0 L429.6,493.2 L431.1,493.5 L432.6,493.8 L434.1,494.2 L435.6,494.5 L437.1,494.9 L438.6,495.3 L440.1,495.7 L441.6,496.2 L443.1,496.7 L444.6,497.2 L446.1,497.8 L447.6,498.4 L449.1,499.0 L450.6,499.7 L452.1,500.5 L453.6,501.3 L455.1,502.2 L456.6,503.2 L458.1,504.3 L459.6,505.7 L461.1,507.2 L462.6,508.9 L464.1,510.8 L465.6,512.9 L467.1,515.4 L468.6,518.1 L470.1,521.1 L471.6,524.5 L473.1,528.2 L474.6,532.2 L476.1,536.7 L477.6,541.8 L479.1,547.8 L480.6,555.1 L482.1,564.2 L483.4,576.4" stroke="#7414e6" stroke-width="3.9" fill="none" stroke-linejoin="round"/>
<path d="M615.4,348.9 L616.9,348.8 L618.4,348.6 L619.9,348.5 L621.4,348.4 L622.9,348.3 L624.4,348.2 L625.9,348.1 L627.4,348.0 L628.9,348.0 L630.4,347.9 L631.9,347.9 L633.4,347.9 L634.9,347.9 L636.4,347.9 L637.9,348.0 L639.4,348.0 L640.9,348.1 L642.4,348.2 L643.9,348.3 L645.4,348.4 L646.9,348.5 L648.4,348.7 L649.9,348.8 L651.4,349.0 L652.9,349.2 L654.4,349.4 L655.9,349.6 L657.4,349.8 L658.9,350.1 L660.4,350.4 L661.9,350.6 L663.4,350.9 L664.9,351.3 L666.4,351.6 L667.9,351.9 L669.4,352.3 L670.9,352.7 L672.4,353.1 L673.9,353.5 L675.4,353.9 L676.9,354.3 L678.4,354.8 L679.9,355.3 L681.4,355.8 L682.9,356.3 L684.4,356.8 L685.9,357.3 L687.4,357.9 L688.9,358.5 L690.4,359.0 L691.9,359.6 L693.4,360.3 L694.9,360.9 L696.4,361.6 L697.9,362.2 L699.4,362.9 L700.9,363.6 L702.4,364.4 L703.9,365.1 L705.4,365.9 L706.9,366.6 L708.4,367.4 L709.9,368.2 L711.4,369.1 L712.9,369.9 L714.4,370.8 L715.9,371.7 L717.4,372.5 L718.9,373.5 L720.4,374.4 L721.9,375.3 L723.4,376.3 L724.9,377.3 L726.4,378.3 L727.9,379.3 L729.4,380.4 L730.9,381.4 L732.4,382.5 L733.9,383.6 L735.4,384.7 L736.9,385.8 L738.4,387.0 L739.9,388.1 L741.4,389.3 L742.9,390.5 L744.4,391.7 L745.9,392.9 L747.4,394.1 L748.9,395.4 L750.4,396.6 L751.9,397.9 L753.4,399.2 L754.9,400.5 L756.4,401.8 L757.9,403.1 L759.4,404.4 L760.9,405.7 L762.4,407.1 L763.9,408.4 L765.4,409.8 L766.9,411.1 L768.4,412.5 L769.9,413.9 L771.4,415.3 L772.9,416.7 L774.4,418.1 L775.9,419.5 L777.4,420.9 L778.9,422.3 L780.4,423.8 L781.9,425.2 L783.4,426.6 L784.9,428.1 L786.4,429.5 L787.9,430.9 L789.4,432.4 L790.9,433.8 L792.4,435.3 L793.9,436.7 L795.4,438.2 L796.9,439.6 L798.4,441.1 L799.9,442.5 L801.4,444.0 L802.9,445.4 L804.4,446.9 L805.9,448.3 L807.4,449.8 L808.9,451.2 L810.4,452.7 L811.9,454.1 L813.4,455.5 L814.9,457.0 L816.4,458.4 L817.9,459.8 L819.4,461.2 L820.9,462.6 L822.4,464.0 L823.9,465.4 L825.4,466.8 L826.9,468.2 L828.4,469.6 L829.9,470.9 L831.4,472.3 L832.9,473.6 L834.4,475.0 L835.9,476.3 L837.4,477.6 L838.9,478.9 L840.4,480.2 L841.9,481.5 L843.4,482.8 L844.9,484.1 L846.4,485.3 L847.9,486.6 L849.4,487.8 L850.9,489.0 L852.4,490.2 L853.9,491.4 L855.4,492.6 L856.9,493.8 L858.4,494.9 L859.9,496.1 L861.4,497.2 L862.9,498.3 L864.4,499.4 L865.9,500.5 L867.4,501.5 L868.9,502.6 L870.4,503.6 L871.9,504.6 L873.4,505.6 L874.9,506.6 L876.4,507.5 L877.9,508.4 L879.4,509.4 L880.9,510.3 L882.4,511.1 L883.9,512.0 L885.4,512.9 L886.9,513.7 L888.4,514.5 L889.9,515.3 L891.4,516.1 L892.9,516.9 L894.4,517.7 L895.9,518.4 L897.4,519.2 L898.9,519.9 L900.4,520.6 L901.9,521.3 L903.4,522.0 L904.9,522.7 L906.4,523.3 L907.9,524.0 L909.4,524.6 L910.9,525.3 L912.4,525.9 L913.9,526.5 L915.4,527.1 L916.9,527.7 L918.4,528.3 L919.9,528.9 L921.4,529.5 L922.9,530.0 L924.4,530.6 L925.9,531.1 L927.4,531.7 L928.9,532.2 L930.4,532.7 L931.9,533.3 L933.4,533.8 L934.9,534.3 L936.4,534.8 L937.9,535.3 L939.4,535.8 L940.9,536.3 L942.4,536.8 L943.9,537.3 L945.4,537.8 L946.9,538.3 L948.4,538.8 L949.9,539.3 L951.4,539.8 L952.9,540.3 L954.4,540.9 L955.9,541.4 L957.4,541.9 L958.9,542.5 L960.4,543.0 L961.9,543.6 L963.4,544.2 L964.9,544.8 L966.4,545.4 L967.9,546.0 L969.4,546.7 L970.9,547.3 L972.4,548.0 L973.9,548.7 L975.4,549.4 L976.9,550.1 L978.4,550.9 L979.9,551.7 L981.4,552.5 L982.9,553.3 L984.4,554.2 L985.9,555.1 L987.4,556.0 L988.9,556.9 L990.4,557.9 L991.9,558.9 L993.4,559.9 L994.9,561.0 L996.4,562.1 L997.9,563.2 L999.4,564.4 L1000.9,565.6 L1002.4,566.9 L1003.9,568.2 L1005.4,569.6 L1006.9,571.0 L1008.4,572.5 L1009.9,574.1 L1011.4,575.8 L1012.9,577.5 L1014.4,579.4 L1015.9,581.3 L1017.4,583.3 L1018.9,585.5 L1020.4,587.8 L1021.5,589.5" stroke="#0b760b" stroke-width="3.9" fill="none" stroke-linejoin="round"/>
<path d="M615.4,382.1 L616.9,382.2 L618.4,382.4 L619.9,382.5 L621.4,382.7 L622.9,382.8 L624.4,382.9 L625.9,383.1 L627.4,383.2 L628.9,383.3 L630.4,383.5 L631.9,383.6 L633.4,383.7 L634.9,383.9 L636.4,384.0 L637.9,384.2 L639.4,384.3 L640.9,384.5 L642.4,384.6 L643.9,384.8 L645.4,384.9 L646.9,385.1 L648.4,385.3 L649.9,385.5 L651.4,385.6 L652.9,385.8 L654.4,386.0 L655.9,386.2 L656.4,386.3 L657.9,386.7 L659.4,387.1 L660.9,387.5 L662.4,387.9 L663.9,388.3 L665.4,388.7 L666.9,389.1 L668.4,389.5 L669.9,390.0 L671.4,390.5 L672.9,390.9 L674.4,391.4 L675.9,391.9 L677.4,392.4 L678.9,392.9 L680.4,393.4 L681.9,393.9 L683.4,394.5 L684.9,395.0 L686.4,395.6 L687.9,396.1 L689.4,396.7 L690.9,397.3 L692.4,397.9 L693.9,398.5 L695.4,399.1 L696.9,399.7 L698.4,400.3 L699.9,400.9 L701.4,401.6 L702.9,402.2 L704.4,402.9 L705.9,403.5 L707.4,404.2 L708.9,404.9 L710.4,405.5 L711.9,406.2 L713.4,406.9 L714.9,407.6 L716.4,408.3 L717.9,409.0 L719.4,409.8 L720.9,410.5 L722.4,411.2 L723.9,412.0 L725.4,412.7 L726.9,413.5 L728.4,414.2 L729.9,415.0 L731.4,415.7 L732.9,416.5 L734.4,417.3 L735.9,418.1 L737.4,418.9 L738.9,419.7 L740.4,420.5 L741.9,421.3 L743.4,422.1 L744.9,422.9 L746.4,423.7 L747.9,424.5 L749.4,425.3 L750.9,426.2 L752.4,427.0 L753.9,427.8 L755.4,428.7 L756.9,429.5 L758.4,430.4 L759.9,431.2 L761.4,432.1 L762.9,432.9 L764.4,433.8 L765.9,434.7 L767.4,435.5 L768.9,436.4 L770.4,437.3 L771.9,438.2 L773.4,439.0 L774.9,439.9 L776.4,440.8 L777.9,441.7 L779.4,442.6 L780.9,443.4 L782.4,444.3 L783.9,445.2 L785.4,446.1 L786.9,447.0 L788.4,447.9 L789.9,448.8 L791.4,449.7 L792.9,450.6 L794.4,451.5 L795.9,452.4 L797.4,453.3 L798.9,454.2 L800.4,455.1 L801.9,456.0 L803.4,456.9 L804.9,457.8 L806.4,458.7 L807.9,459.6 L809.4,460.5 L810.9,461.4 L812.4,462.3 L813.9,463.2 L815.4,464.1 L816.9,465.0 L818.4,465.9 L819.9,466.8 L821.4,467.7 L822.9,468.6 L824.4,469.5 L825.9,470.4 L827.4,471.3 L828.9,472.2 L830.4,473.1 L831.9,474.0 L833.4,474.9 L834.9,475.7 L836.4,476.6 L837.9,477.5 L839.4,478.4 L840.9,479.2 L842.4,480.1 L843.9,481.0 L845.4,481.9 L846.9,482.7 L848.4,483.6 L849.9,484.4 L851.4,485.3 L852.9,486.1 L854.4,487.0 L855.9,487.8 L857.4,488.7 L858.9,489.5 L860.4,490.3 L861.9,491.1 L863.4,492.0 L864.9,492.8 L866.4,493.6 L867.9,494.4 L869.4,495.2 L870.9,496.0 L872.4,496.8 L873.9,497.6 L875.4,498.5 L876.9,499.3 L878.4,500.1 L879.9,500.9 L881.4,501.7 L882.9,502.5 L884.4,503.3 L885.9,504.1 L887.4,504.9 L888.9,505.7 L890.4,506.5 L891.9,507.3 L893.4,508.1 L894.9,508.9 L896.4,509.7 L897.9,510.5 L899.4,511.4 L900.9,512.2 L902.4,513.0 L903.9,513.8 L905.4,514.7 L906.9,515.5 L908.4,516.3 L909.9,517.2 L911.4,518.0 L912.9,518.9 L914.4,519.7 L915.9,520.6 L917.4,521.4 L918.9,522.3 L920.4,523.1 L921.9,524.0 L923.4,524.9 L924.9,525.7 L926.4,526.5 L927.9,527.4 L929.4,528.2 L930.9,529.1 L932.4,529.9 L933.9,530.7 L935.4,531.5 L936.9,532.3 L938.4,533.1 L939.9,533.9 L941.4,534.7 L942.9,535.4 L944.4,536.2 L945.9,536.9 L947.4,537.6 L948.9,538.3 L950.4,539.0 L951.9,539.7 L953.4,540.4 L954.9,541.0 L956.4,541.6 L957.9,542.2 L959.4,542.8 L960.9,543.4 L962.4,544.0 L963.9,544.5 L965.4,545.0 L966.9,545.5 L968.4,546.0 L969.9,546.5 L971.4,547.0 L972.9,547.5 L974.4,548.1 L975.9,548.6 L977.4,549.1 L978.9,549.6 L980.4,550.2 L981.9,550.8 L983.4,551.4 L984.9,552.0 L986.4,552.6 L987.9,553.3 L989.4,554.0 L990.9,554.8 L992.4,555.6 L993.9,556.4 L995.4,557.3 L996.9,558.2 L998.4,559.2 L999.9,560.2 L1001.4,561.3 L1002.9,562.4 L1004.4,563.6 L1005.9,564.9 L1007.4,566.2 L1008.9,567.7 L1010.4,569.3 L1011.9,571.2 L1013.4,573.2 L1014.9,575.6 L1016.4,578.3 L1017.9,581.3 L1019.4,584.7 L1020.8,588.4" stroke="#7414e6" stroke-width="3.9" fill="none" stroke-linejoin="round"/>
<path d="M78.5,668.4 L80.0,668.1 L81.5,667.9 L83.0,667.6 L84.5,667.4 L86.0,667.3 L87.5,667.1 L89.0,667.0 L90.5,666.8 L92.0,666.7 L93.5,666.6 L95.0,666.6 L96.5,666.5 L98.0,666.5 L99.5,666.5 L101.0,666.5 L102.5,666.5 L104.0,666.5 L105.5,666.6 L107.0,666.6 L108.5,666.7 L110.0,666.7 L111.5,666.8 L113.0,666.9 L114.5,667.0 L116.0,667.1 L117.5,667.3 L119.0,667.4 L120.5,667.5 L122.0,667.7 L123.5,667.8 L125.0,668.0 L126.5,668.1 L128.0,668.3 L129.5,668.5 L131.0,668.6 L132.5,668.8 L134.0,669.0 L135.5,669.1 L137.0,669.3 L138.5,669.5 L140.0,669.6 L141.5,669.8 L143.0,669.9 L144.5,670.1 L146.0,670.2 L147.5,670.4 L149.0,670.5 L150.5,670.7 L152.0,670.8 L153.5,670.9 L155.0,671.1 L156.5,671.2 L158.0,671.4 L159.5,671.5 L161.0,671.6 L162.5,671.8 L164.0,671.9 L165.5,672.0 L167.0,672.2 L168.5,672.3 L170.0,672.5 L171.5,672.6 L173.0,672.8 L174.5,672.9 L176.0,673.1 L177.5,673.3 L179.0,673.4 L180.5,673.6 L182.0,673.8 L183.5,674.0 L185.0,674.2 L186.5,674.4 L188.0,674.6 L189.5,674.9 L191.0,675.1 L192.5,675.3 L194.0,675.6 L195.5,675.9 L197.0,676.1 L198.5,676.4 L200.0,676.7 L201.5,677.0 L203.0,677.3 L204.5,677.7 L206.0,678.0 L207.5,678.4 L209.0,678.7 L210.5,679.1 L212.0,679.5 L213.5,679.9 L215.0,680.4 L216.5,680.8 L218.0,681.3 L219.5,681.7 L221.0,682.2 L222.5,682.7 L224.0,683.2 L225.5,683.8 L227.0,684.3 L228.5,684.8 L230.0,685.4 L231.5,685.9 L233.0,686.5 L234.5,687.1 L236.0,687.7 L237.5,688.3 L239.0,688.9 L240.5,689.5 L242.0,690.2 L243.5,690.8 L245.0,691.4 L246.5,692.1 L248.0,692.7 L249.5,693.4 L251.0,694.1 L252.5,694.8 L254.0,695.5 L255.5,696.2 L257.0,696.9 L258.5,697.6 L260.0,698.3 L261.5,699.0 L263.0,699.7 L264.5,700.4 L266.0,701.2 L267.5,701.9 L269.0,702.6 L270.5,703.4 L272.0,704.1 L273.5,704.8 L275.0,705.6 L276.5,706.3 L278.0,707.1 L279.5,707.8 L281.0,708.6 L282.5,709.3 L284.0,710.1 L285.5,710.8 L287.0,711.6 L288.5,712.3 L290.0,713.1 L291.5,713.8 L293.0,714.6 L294.5,715.3 L296.0,716.1 L297.5,716.8 L299.0,717.5 L300.5,718.3 L302.0,719.0 L303.5,719.7 L305.0,720.5 L306.5,721.2 L308.0,721.9 L309.5,722.6 L311.0,723.3 L312.5,724.0 L314.0,724.7 L315.5,725.4 L317.0,726.1 L318.5,726.8 L320.0,727.5 L321.5,728.1 L323.0,728.8 L324.5,729.4 L326.0,730.1 L327.5,730.7 L329.0,731.3 L330.5,731.9 L332.0,732.6 L333.5,733.2 L335.0,733.7 L336.5,734.3 L338.0,734.9 L339.5,735.5 L341.0,736.0 L342.5,736.5 L344.0,737.1 L345.5,737.6 L347.0,738.1 L348.5,738.6 L350.0,739.1 L351.5,739.5 L353.0,740.0 L354.5,740.4 L356.0,740.9 L357.5,741.3 L359.0,741.7 L360.5,742.1 L362.0,742.5 L363.5,742.8 L365.0,743.2 L366.5,743.5 L368.0,743.8 L369.5,744.1 L371.0,744.4 L372.5,744.7 L374.0,744.9 L375.5,745.2 L377.0,745.4 L378.5,745.6 L380.0,745.8 L381.5,746.0 L383.0,746.1 L384.5,746.3 L386.0,746.4 L387.5,746.5 L389.0,746.7 L390.5,746.8 L392.0,746.9 L393.5,747.0 L395.0,747.2 L396.5,747.3 L398.0,747.4 L399.5,747.6 L401.0,747.8 L402.5,748.0 L404.0,748.2 L405.5,748.5 L407.0,748.7 L408.5,749.0 L410.0,749.4 L411.5,749.7 L413.0,750.2 L414.5,750.6 L416.0,751.1 L417.5,751.6 L419.0,752.2 L420.5,752.9 L422.0,753.6 L423.5,754.3 L425.0,755.1 L426.5,756.0 L428.0,756.9 L429.5,757.9 L431.0,758.9 L432.5,760.0 L434.0,761.2 L435.5,762.4 L437.0,763.8 L438.5,765.1 L440.0,766.6 L441.5,768.1 L443.0,769.7 L444.5,771.4 L446.0,773.1 L447.5,774.9 L449.0,776.8 L450.5,778.8 L452.0,780.9 L453.5,783.1 L455.0,785.4 L456.5,787.9 L458.0,790.5 L459.5,793.3 L461.0,796.2 L462.5,799.4 L464.0,802.7 L465.5,806.2 L467.0,810.0 L468.5,813.9 L470.0,818.1 L471.5,822.4 L473.0,826.9 L474.5,831.5 L476.0,836.1 L477.5,840.9 L479.0,845.7 L480.5,850.7 L482.0,856.4 L483.5,863.5 L485.0,872.6 L485.2,874.0" stroke="#0b760b" stroke-width="3.9" fill="none" stroke-linejoin="round"/>
<path d="M78.5,744.5 L80.0,744.5 L81.5,744.5 L83.0,744.4 L84.5,744.4 L86.0,744.4 L87.5,744.4 L89.0,744.4 L90.5,744.4 L92.0,744.4 L93.5,744.4 L95.0,744.5 L96.5,744.5 L98.0,744.5 L99.5,744.5 L101.0,744.6 L102.5,744.6 L104.0,744.7 L105.5,744.7 L107.0,744.8 L108.5,744.9 L110.0,744.9 L111.5,745.0 L113.0,745.1 L114.5,745.2 L116.0,745.3 L117.5,745.4 L119.0,745.5 L120.5,745.6 L122.0,745.7 L123.5,745.8 L125.0,745.9 L126.5,746.0 L128.0,746.2 L129.5,746.3 L131.0,746.4 L132.5,746.6 L134.0,746.7 L135.5,746.9 L137.0,747.0 L138.5,747.2 L140.0,747.3 L141.5,747.5 L143.0,747.7 L144.5,747.9 L146.0,748.0 L147.5,748.2 L149.0,748.4 L150.5,748.6 L152.0,748.8 L153.5,749.0 L155.0,749.2 L156.5,749.4 L158.0,749.6 L159.5,749.8 L161.0,750.0 L162.5,750.2 L164.0,750.5 L165.5,750.7 L167.0,750.9 L168.5,751.1 L170.0,751.4 L171.5,751.6 L173.0,751.9 L174.5,752.1 L176.0,752.4 L177.5,752.6 L179.0,752.9 L180.5,753.1 L182.0,753.4 L183.5,753.7 L185.0,753.9 L186.5,754.2 L188.0,754.5 L189.5,754.7 L191.0,755.0 L192.5,755.3 L194.0,755.6 L195.5,755.9 L197.0,756.2 L198.5,756.5 L200.0,756.8 L201.5,757.1 L203.0,757.4 L204.5,757.7 L206.0,758.0 L207.5,758.3 L209.0,758.6 L210.5,758.9 L212.0,759.2 L213.5,759.5 L215.0,759.8 L216.5,760.2 L218.0,760.5 L219.5,760.8 L221.0,761.1 L222.5,761.5 L224.0,761.8 L225.5,762.1 L227.0,762.5 L228.5,762.8 L230.0,763.1 L231.5,763.5 L233.0,763.8 L234.5,764.2 L236.0,764.5 L237.5,764.8 L239.0,765.2 L240.5,765.5 L242.0,765.9 L243.5,766.2 L245.0,766.6 L246.5,767.0 L248.0,767.3 L249.5,767.7 L251.0,768.0 L252.5,768.4 L254.0,768.7 L255.5,769.1 L257.0,769.5 L258.5,769.8 L260.0,770.2 L261.5,770.6 L263.0,770.9 L264.5,771.3 L266.0,771.7 L267.5,772.0 L269.0,772.4 L270.5,772.8 L272.0,773.2 L273.5,773.5 L275.0,773.9 L276.5,774.3 L278.0,774.6 L279.5,775.0 L281.0,775.4 L282.5,775.8 L284.0,776.1 L285.5,776.5 L287.0,776.9 L288.5,777.3 L290.0,777.6 L291.5,778.0 L293.0,778.4 L294.5,778.8 L296.0,779.1 L297.5,779.5 L299.0,779.9 L300.5,780.3 L302.0,780.7 L303.5,781.0 L305.0,781.4 L306.5,781.8 L308.0,782.2 L309.5,782.5 L311.0,782.9 L312.5,783.3 L314.0,783.6 L315.5,784.0 L317.0,784.4 L318.5,784.8 L320.0,785.1 L321.5,785.5 L323.0,785.9 L324.5,786.2 L326.0,786.6 L327.5,787.0 L329.0,787.3 L330.5,787.7 L332.0,788.1 L333.5,788.4 L335.0,788.8 L336.5,789.2 L338.0,789.5 L339.5,789.9 L341.0,790.2 L342.5,790.6 L344.0,791.0 L345.5,791.3 L347.0,791.7 L348.5,792.0 L350.0,792.4 L351.5,792.7 L353.0,793.1 L354.5,793.4 L356.0,793.8 L357.5,794.1 L359.0,794.5 L360.5,794.8 L362.0,795.2 L363.5,795.5 L365.0,795.8 L366.5,796.2 L368.0,796.5 L369.5,796.9 L371.0,797.2 L372.5,797.6 L374.0,797.9 L375.5,798.2 L377.0,798.6 L378.5,798.9 L380.0,799.3 L381.5,799.6 L383.0,799.9 L384.5,800.3 L386.0,800.6 L387.5,801.0 L389.0,801.3 L390.5,801.6 L392.0,802.0 L393.5,802.3 L395.0,802.7 L396.5,803.0 L398.0,803.3 L399.5,803.7 L401.0,804.0 L402.5,804.4 L404.0,804.7 L405.5,805.1 L407.0,805.4 L408.5,805.7 L410.0,806.1 L411.5,806.4 L413.0,806.8 L414.5,807.1 L416.0,807.5 L417.5,807.8 L419.0,808.2 L420.5,808.5 L422.0,808.9 L423.5,809.2 L425.0,809.6 L426.5,809.9 L428.0,810.3 L429.5,810.6 L431.0,811.0 L432.5,811.3 L434.0,811.7 L435.5,812.1 L437.0,812.4 L438.5,812.8 L440.0,813.1 L441.5,813.5 L443.0,813.9 L444.5,814.4 L446.0,814.9 L447.5,815.4 L449.0,816.0 L450.5,816.7 L452.0,817.5 L453.5,818.4 L455.0,819.4 L456.5,820.6 L458.0,821.9 L459.5,823.3 L461.0,824.9 L462.5,826.7 L464.0,828.7 L465.5,830.9 L467.0,833.2 L468.5,835.9 L470.0,838.7 L471.5,841.8 L473.0,845.2 L474.5,848.9 L476.0,853.1 L477.5,858.1 L479.0,864.1 L480.5,871.2 L482.0,879.8 L483.5,892.7 L484.1,900.0" stroke="#7414e6" stroke-width="3.9" fill="none" stroke-linejoin="round"/>
<path d="M613.8,696.8 L615.3,696.7 L616.8,696.5 L618.3,696.4 L619.8,696.3 L621.3,696.2 L622.8,696.1 L624.3,696.1 L625.8,696.0 L627.3,696.0 L628.8,696.0 L630.3,696.0 L631.8,696.0 L633.3,696.0 L634.8,696.1 L636.3,696.1 L637.8,696.2 L639.3,696.3 L640.8,696.4 L642.3,696.5 L643.8,696.6 L645.3,696.8 L646.8,696.9 L648.3,697.1 L649.8,697.3 L651.3,697.4 L652.8,697.7 L654.3,697.9 L655.8,698.1 L657.3,698.4 L658.8,698.6 L660.3,698.9 L661.8,699.2 L663.3,699.5 L664.8,699.8 L666.3,700.1 L667.8,700.5 L669.3,700.8 L670.8,701.2 L672.3,701.6 L673.8,702.0 L675.3,702.4 L676.8,702.8 L678.3,703.3 L679.8,703.7 L681.3,704.2 L682.8,704.7 L684.3,705.2 L685.8,705.7 L687.3,706.2 L688.8,706.7 L690.3,707.3 L691.8,707.8 L693.3,708.4 L694.8,709.0 L696.3,709.6 L697.8,710.2 L699.3,710.8 L700.8,711.4 L702.3,712.1 L703.8,712.8 L705.3,713.4 L706.8,714.1 L708.3,714.8 L709.8,715.5 L711.3,716.3 L712.8,717.0 L714.3,717.8 L715.8,718.5 L717.3,719.3 L718.8,720.1 L720.3,720.9 L721.8,721.7 L723.3,722.6 L724.8,723.4 L726.3,724.3 L727.8,725.1 L729.3,726.0 L730.8,726.9 L732.3,727.8 L733.8,728.7 L735.3,729.7 L736.8,730.6 L738.3,731.6 L739.8,732.5 L741.3,733.5 L742.8,734.5 L744.3,735.5 L745.8,736.5 L747.3,737.5 L748.8,738.6 L750.3,739.6 L751.8,740.7 L753.3,741.7 L754.8,742.8 L756.3,743.9 L757.8,744.9 L759.3,746.0 L760.8,747.1 L762.3,748.2 L763.8,749.4 L765.3,750.5 L766.8,751.6 L768.3,752.8 L769.8,753.9 L771.3,755.1 L772.8,756.2 L774.3,757.4 L775.8,758.5 L777.3,759.7 L778.8,760.9 L780.3,762.1 L781.8,763.2 L783.3,764.4 L784.8,765.6 L786.3,766.8 L787.8,768.0 L789.3,769.2 L790.8,770.4 L792.3,771.6 L793.8,772.8 L795.3,774.0 L796.8,775.3 L798.3,776.5 L799.8,777.7 L801.3,778.9 L802.8,780.1 L804.3,781.3 L805.8,782.5 L807.3,783.8 L808.8,785.0 L810.3,786.2 L811.8,787.4 L813.3,788.6 L814.8,789.8 L816.3,791.0 L817.8,792.2 L819.3,793.4 L820.8,794.5 L822.3,795.7 L823.8,796.9 L825.3,798.0 L826.8,799.2 L828.3,800.3 L829.8,801.5 L831.3,802.6 L832.8,803.7 L834.3,804.8 L835.8,805.9 L837.3,807.0 L838.8,808.1 L840.3,809.1 L841.8,810.2 L843.3,811.2 L844.8,812.2 L846.3,813.2 L847.8,814.2 L849.3,815.2 L850.8,816.1 L852.3,817.1 L853.8,818.0 L855.3,818.9 L856.8,819.8 L858.3,820.7 L859.8,821.5 L861.3,822.3 L862.8,823.2 L864.3,824.0 L865.8,824.7 L867.3,825.5 L868.8,826.3 L870.3,827.0 L871.8,827.7 L873.3,828.5 L874.8,829.2 L876.3,829.9 L877.8,830.6 L879.3,831.3 L880.8,832.0 L882.3,832.6 L883.8,833.3 L885.3,834.0 L886.8,834.7 L888.3,835.4 L889.8,836.0 L891.3,836.7 L892.8,837.4 L894.3,838.1 L895.8,838.8 L897.3,839.5 L898.8,840.2 L900.3,840.9 L901.8,841.6 L903.3,842.3 L904.8,843.0 L906.3,843.7 L907.8,844.3 L909.3,845.0 L910.8,845.7 L912.3,846.3 L913.8,847.0 L915.3,847.6 L916.8,848.2 L918.3,848.9 L919.8,849.4 L921.3,850.0 L922.8,850.6 L924.3,851.1 L925.8,851.6 L927.3,852.1 L928.8,852.6 L930.3,853.0 L931.8,853.5 L933.3,853.9 L934.8,854.4 L936.3,854.8 L937.8,855.2 L939.3,855.7 L940.8,856.1 L942.3,856.5 L943.8,856.9 L945.3,857.4 L946.8,857.8 L948.3,858.3 L949.8,858.7 L951.3,859.2 L952.8,859.7 L954.3,860.2 L955.8,860.7 L957.3,861.2 L958.8,861.7 L960.3,862.3 L961.8,862.9 L963.3,863.5 L964.8,864.2 L966.3,864.9 L967.8,865.6 L969.3,866.3 L970.8,867.1 L972.3,867.9 L973.8,868.7 L975.3,869.6 L976.8,870.5 L978.3,871.5 L979.8,872.5 L981.3,873.5 L982.8,874.5 L984.3,875.6 L985.8,876.8 L987.3,878.0 L988.8,879.2 L990.3,880.5 L991.8,881.8 L993.3,883.1 L994.8,884.5 L996.3,886.0 L997.8,887.4 L999.3,889.0 L1000.8,890.5 L1002.3,892.2 L1003.8,893.8 L1005.3,895.5 L1006.8,897.3 L1008.3,899.2 L1009.8,901.1 L1011.3,903.0 L1012.8,905.0 L1014.3,907.1 L1015.8,909.3 L1017.3,911.5 L1018.8,913.8 L1019.8,915.4" stroke="#0b760b" stroke-width="3.9" fill="none" stroke-linejoin="round"/>
<path d="M613.8,733.3 L615.3,733.5 L616.8,733.7 L618.3,733.9 L619.8,734.0 L621.3,734.2 L622.8,734.3 L624.3,734.5 L625.8,734.6 L627.3,734.7 L628.8,734.8 L630.3,734.9 L631.8,735.0 L633.3,735.1 L634.8,735.2 L636.3,735.3 L637.8,735.4 L639.3,735.5 L640.8,735.6 L642.3,735.7 L643.8,735.8 L645.3,735.9 L646.8,736.0 L648.3,736.1 L649.8,736.2 L651.3,736.3 L652.8,736.5 L654.3,736.6 L655.1,736.7 L656.6,737.1 L658.1,737.5 L659.6,738.0 L661.1,738.4 L662.6,738.8 L664.1,739.3 L665.6,739.7 L667.1,740.2 L668.6,740.6 L670.1,741.0 L671.6,741.5 L673.1,741.9 L674.6,742.4 L676.1,742.9 L677.6,743.3 L679.1,743.8 L680.6,744.2 L682.1,744.7 L683.6,745.2 L685.1,745.6 L686.6,746.1 L688.1,746.6 L689.6,747.1 L691.1,747.6 L692.6,748.1 L694.1,748.6 L695.6,749.1 L697.1,749.6 L698.6,750.1 L700.1,750.6 L701.6,751.1 L703.1,751.6 L704.6,752.1 L706.1,752.6 L707.6,753.2 L709.1,753.7 L710.6,754.2 L712.1,754.8 L713.6,755.3 L715.1,755.9 L716.6,756.4 L718.1,757.0 L719.6,757.5 L721.1,758.1 L722.6,758.7 L724.1,759.2 L725.6,759.8 L727.1,760.4 L728.6,761.0 L730.1,761.6 L731.6,762.2 L733.1,762.8 L734.6,763.4 L736.1,764.0 L737.6,764.7 L739.1,765.3 L740.6,765.9 L742.1,766.6 L743.6,767.2 L745.1,767.9 L746.6,768.5 L748.1,769.2 L749.6,769.8 L751.1,770.5 L752.6,771.2 L754.1,771.9 L755.6,772.6 L757.1,773.3 L758.6,774.0 L760.1,774.7 L761.6,775.4 L763.1,776.1 L764.6,776.9 L766.1,777.6 L767.6,778.3 L769.1,779.1 L770.6,779.8 L772.1,780.6 L773.6,781.3 L775.1,782.1 L776.6,782.9 L778.1,783.6 L779.6,784.4 L781.1,785.2 L782.6,785.9 L784.1,786.7 L785.6,787.5 L787.1,788.3 L788.6,789.1 L790.1,789.8 L791.6,790.6 L793.1,791.4 L794.6,792.2 L796.1,793.0 L797.6,793.7 L799.1,794.5 L800.6,795.3 L802.1,796.1 L803.6,796.9 L805.1,797.6 L806.6,798.4 L808.1,799.2 L809.6,799.9 L811.1,800.7 L812.6,801.5 L814.1,802.2 L815.6,803.0 L817.1,803.7 L818.6,804.5 L820.1,805.2 L821.6,805.9 L823.1,806.7 L824.6,807.4 L826.1,808.1 L827.6,808.8 L829.1,809.5 L830.6,810.3 L832.1,811.0 L833.6,811.7 L835.1,812.4 L836.6,813.1 L838.1,813.8 L839.6,814.5 L841.1,815.1 L842.6,815.8 L844.1,816.5 L845.6,817.2 L847.1,817.9 L848.6,818.5 L850.1,819.2 L851.6,819.9 L853.1,820.5 L854.6,821.2 L856.1,821.8 L857.6,822.5 L859.1,823.2 L860.6,823.8 L862.1,824.5 L863.6,825.1 L865.1,825.7 L866.6,826.4 L868.1,827.0 L869.6,827.7 L871.1,828.3 L872.6,828.9 L874.1,829.6 L875.6,830.2 L877.1,830.9 L878.6,831.5 L880.1,832.1 L881.6,832.7 L883.1,833.4 L884.6,834.0 L886.1,834.6 L887.6,835.3 L889.1,835.9 L890.6,836.5 L892.1,837.1 L893.6,837.8 L895.1,838.4 L896.6,839.0 L898.1,839.7 L899.6,840.3 L901.1,840.9 L902.6,841.6 L904.1,842.2 L905.6,842.8 L907.1,843.5 L908.6,844.1 L910.1,844.8 L911.6,845.4 L913.1,846.1 L914.6,846.7 L916.1,847.4 L917.6,848.0 L919.1,848.7 L920.6,849.4 L922.1,850.0 L923.6,850.7 L925.1,851.4 L926.6,852.0 L928.1,852.7 L929.6,853.4 L931.1,854.1 L932.6,854.7 L934.1,855.4 L935.6,856.1 L937.1,856.8 L938.6,857.4 L940.1,858.1 L941.6,858.7 L943.1,859.4 L944.6,860.0 L946.1,860.6 L947.6,861.3 L949.1,861.9 L950.6,862.5 L952.1,863.1 L953.6,863.7 L955.1,864.3 L956.6,864.8 L958.1,865.4 L959.6,865.9 L961.1,866.5 L962.6,867.0 L964.1,867.5 L965.6,868.0 L967.1,868.5 L968.6,869.0 L970.1,869.5 L971.6,870.0 L973.1,870.5 L974.6,871.0 L976.1,871.5 L977.6,872.0 L979.1,872.6 L980.6,873.2 L982.1,873.7 L983.6,874.3 L985.1,875.0 L986.6,875.6 L988.1,876.3 L989.6,877.0 L991.1,877.8 L992.6,878.6 L994.1,879.4 L995.6,880.3 L997.1,881.2 L998.6,882.2 L1000.1,883.2 L1001.6,884.3 L1003.1,885.5 L1004.6,886.8 L1006.1,888.2 L1007.6,889.8 L1009.1,891.5 L1010.6,893.4 L1012.1,895.5 L1013.6,897.9 L1015.1,900.4 L1016.6,903.3 L1018.1,906.4 L1019.6,909.8 L1020.3,911.5" stroke="#7414e6" stroke-width="3.9" fill="none" stroke-linejoin="round"/>
<text class="s" x="479.8" y="49.5" text-anchor="end" font-size="38"><tspan font-size="43" style="stroke-width:0">(</tspan>a<tspan font-size="43" style="stroke-width:0">)</tspan></text>
<text class="s" x="1015.4" y="49.4" text-anchor="end" font-size="38"><tspan font-size="43" style="stroke-width:0">(</tspan>b<tspan font-size="43" style="stroke-width:0">)</tspan></text>
<text class="s" x="479.9" y="369.6" text-anchor="end" font-size="38"><tspan font-size="43" style="stroke-width:0">(</tspan>c<tspan font-size="43" style="stroke-width:0">)</tspan></text>
<text class="s" x="1016.9" y="369.9" text-anchor="end" font-size="38"><tspan font-size="43" style="stroke-width:0">(</tspan>d<tspan font-size="43" style="stroke-width:0">)</tspan></text>
<text class="s" x="479.8" y="693.9" text-anchor="end" font-size="38"><tspan font-size="43" style="stroke-width:0">(</tspan>e<tspan font-size="43" style="stroke-width:0">)</tspan></text>
<text class="s" x="1015.3" y="695.6" text-anchor="end" font-size="38"><tspan font-size="43" style="stroke-width:0">(</tspan>f<tspan font-size="43" style="stroke-width:0">)</tspan></text>
<text class="s" font-size="38" transform="translate(30.4,137.5) rotate(-90)" text-anchor="middle"><tspan font-style="italic">q</tspan></text>
<text class="s" font-size="38" transform="translate(544.1,115.6) rotate(-90)" text-anchor="middle" textLength="223.0" lengthAdjust="spacing"><tspan font-style="italic">n</tspan><tspan font-style="italic" font-size="27" dy="4.5">α</tspan><tspan font-size="43" dy="-4.5">(</tspan><tspan>10</tspan><tspan font-style="italic">e</tspan><tspan>19</tspan><tspan font-size="52" dy="7">/</tspan><tspan font-style="italic" dy="-7">m</tspan><tspan font-size="27" dy="-10">3</tspan><tspan font-size="43" dy="10">)</tspan></text>
<text class="s" font-size="38" transform="translate(29.3,434.5) rotate(-90)" text-anchor="middle" textLength="224.0" lengthAdjust="spacing"><tspan font-style="italic">n</tspan><tspan font-style="italic" font-size="27" dy="4.5">e</tspan><tspan font-size="43" dy="-4.5">(</tspan><tspan>10</tspan><tspan font-style="italic">e</tspan><tspan>19</tspan><tspan font-size="52" dy="7">/</tspan><tspan font-style="italic" dy="-7">m</tspan><tspan font-size="27" dy="-10">3</tspan><tspan font-size="43" dy="10">)</tspan></text>
<text class="s" font-size="38" transform="translate(566.0,449.2) rotate(-90)" text-anchor="middle" textLength="120.0" lengthAdjust="spacing"><tspan font-style="italic">T</tspan><tspan font-style="italic" font-size="27" dy="4.5">e</tspan><tspan font-size="43" dy="-4.5">(</tspan><tspan font-style="italic">kev</tspan><tspan font-size="43">)</tspan></text>
<text class="s" font-size="38" transform="translate(29.3,759.5) rotate(-90)" text-anchor="middle" textLength="219.0" lengthAdjust="spacing"><tspan font-style="italic">n</tspan><tspan font-style="italic" font-size="27" dy="4.5">i</tspan><tspan font-size="43" dy="-4.5">(</tspan><tspan>10</tspan><tspan font-style="italic">e</tspan><tspan>19</tspan><tspan font-size="52" dy="7">/</tspan><tspan font-style="italic" dy="-7">m</tspan><tspan font-size="27" dy="-10">3</tspan><tspan font-size="43" dy="10">)</tspan></text>
<text class="s" font-size="38" transform="translate(566.0,774.2) rotate(-90)" text-anchor="middle" textLength="117.5" lengthAdjust="spacing"><tspan font-style="italic">T</tspan><tspan font-style="italic" font-size="27" dy="4.5">i</tspan><tspan font-size="43" dy="-4.5">(</tspan><tspan font-style="italic">kev</tspan><tspan font-size="43">)</tspan></text>
<text class="s" font-size="34" font-style="italic" style="stroke-width:0" transform="translate(259.8,973.6) scale(1.28,1)">r</text>
<path d="M281.6,982.3L293.7,945.1" stroke="#000" stroke-width="1.8"/>
<text class="s" font-size="34" font-style="italic" style="stroke-width:0" transform="translate(298.0,973.6) scale(1.1,1)">a</text>
<text class="s" font-size="34" font-style="italic" style="stroke-width:0" transform="translate(795.1,974.9) scale(1.28,1)">r</text>
<path d="M816.9,983.6L829.0,946.4" stroke="#000" stroke-width="1.8"/>
<text class="s" font-size="34" font-style="italic" style="stroke-width:0" transform="translate(833.3,974.9) scale(1.1,1)">a</text>
<g style="fill:#0b760b"><text class="s" style="fill:#0b760b;stroke:#0b760b" font-size="26" font-style="italic" x="252.0" y="197.3">q</text><text class="s" style="fill:#0b760b;stroke:#0b760b" font-size="18.5" font-style="italic" letter-spacing="2" x="264.0" y="200.9">min</text><path d="M298.0,187.9h17.8M298.0,193.2h17.8" stroke="#0b760b" stroke-width="1.3"/><text class="s" style="fill:#0b760b;stroke:#0b760b" font-size="25.5" letter-spacing="0.9" x="324.2" y="197.3">2.73</text></g>
<g style="fill:#7414e6"><text class="s" style="fill:#7414e6;stroke:#7414e6" font-size="26" font-style="italic" x="205.7" y="246.9">q</text><text class="s" style="fill:#7414e6;stroke:#7414e6" font-size="18.5" font-style="italic" letter-spacing="2" x="218.0" y="250.5">min</text><path d="M252.0,237.5h17.8M252.0,242.8h17.8" stroke="#7414e6" stroke-width="1.3"/><text class="s" style="fill:#7414e6;stroke:#7414e6" font-size="25.5" letter-spacing="0.9" x="278.0" y="246.9">2.528</text></g>
</svg></body></html>
